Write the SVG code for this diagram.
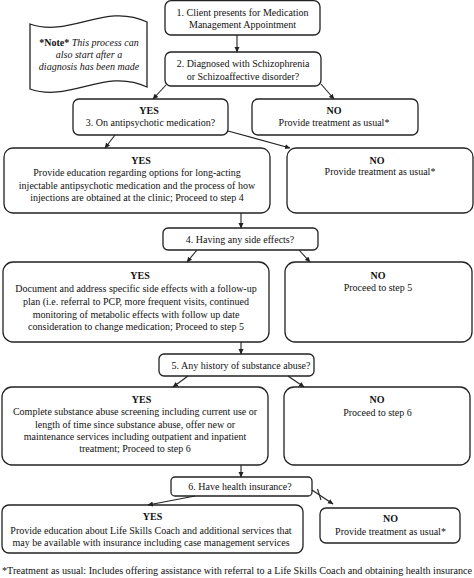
<svg xmlns="http://www.w3.org/2000/svg" width="474" height="578" viewBox="0 0 474 578">
<defs>
<marker id="ah" markerWidth="6" markerHeight="6" refX="5" refY="3" orient="auto" markerUnits="userSpaceOnUse">
<path d="M0,0.5 L5.5,3 L0,5.5 Z" fill="#222"/>
</marker>
<style>
.box{fill:#fff;stroke:#222;stroke-width:1.3}
text{font-family:"Liberation Serif","Times New Roman",serif;font-size:10px;fill:#111;text-anchor:middle}
.b{font-weight:bold}
.i{font-style:italic}
.c line{stroke:#222;stroke-width:1.1;marker-end:url(#ah)}
</style>
</defs>
<rect width="474" height="578" fill="#fff"/>

<g id="note">
<path class="box" d="M30,24 C70,38 105,2 147,22 L147,87 C105,67 70,103 30,89 Z"/>
<text x="89" y="46"><tspan class="b">*Note*</tspan> <tspan class="i">This process can</tspan></text>
<text x="89" y="58" class="i">also start after a</text>
<text x="89" y="70" class="i">diagnosis has been made</text>
</g>

<g id="step1">
<rect class="box" x="165" y="0.7" width="155" height="34.3" rx="6"/>
<text x="242.5" y="15.5">1. Client presents for Medication</text>
<text x="242.5" y="27.5">Management Appointment</text>
</g>

<g id="step2">
<rect class="box" x="165" y="52" width="156" height="34" rx="6"/>
<text x="243" y="67">2. Diagnosed with Schizophrenia</text>
<text x="243" y="79.5">or Schizoaffective disorder?</text>
</g>

<g id="yes2">
<rect class="box" x="73" y="99" width="155" height="36" rx="6"/>
<text x="149" y="114" class="b">YES</text>
<text x="150.5" y="125.5">3. On antipsychotic medication?</text>
</g>

<g id="no2">
<rect class="box" x="252" y="99" width="166" height="36" rx="6"/>
<text x="334" y="114" class="b">NO</text>
<text x="334" y="125.5">Provide treatment as usual*</text>
</g>

<g id="yes3">
<rect class="box" x="4" y="148" width="266" height="65" rx="9"/>
<text x="141" y="163.5" class="b">YES</text>
<text x="137" y="176">Provide education regarding options for long-acting</text>
<text x="137" y="188.5">injectable antipsychotic medication and the process of how</text>
<text x="137" y="201">injections are obtained at the clinic; Proceed to step 4</text>
</g>

<g id="no3">
<rect class="box" x="287" y="148" width="186" height="65" rx="9"/>
<text x="377" y="164" class="b">NO</text>
<text x="380" y="175">Provide treatment as usual*</text>
</g>

<g id="step4">
<rect class="box" x="163" y="228" width="155" height="22" rx="5"/>
<text x="240" y="242.5">4. Having any side effects?</text>
</g>

<g id="yes4">
<rect class="box" x="3" y="262" width="266" height="80" rx="10"/>
<text x="140" y="278.5" class="b">YES</text>
<text x="136" y="291.5">Document and address specific side effects with a follow-up</text>
<text x="136" y="304.5">plan (i.e. referral to PCP, more frequent visits, continued</text>
<text x="136" y="317.5">monitoring of metabolic effects with follow up date</text>
<text x="136" y="330">consideration to change medication; Proceed to step 5</text>
</g>

<g id="no4">
<rect class="box" x="285" y="262" width="187" height="80" rx="10"/>
<text x="378" y="278.5" class="b">NO</text>
<text x="378" y="291">Proceed to step 5</text>
</g>

<g id="step5">
<rect class="box" x="159" y="354" width="155" height="22" rx="5"/>
<text x="241" y="369">5. Any history of substance abuse?</text>
</g>

<g id="yes5">
<rect class="box" x="2" y="387" width="266" height="78" rx="10"/>
<text x="141.5" y="402.5" class="b">YES</text>
<text x="135" y="415">Complete substance abuse screening including current use or</text>
<text x="135" y="427.5">length of time since substance abuse, offer new or</text>
<text x="135" y="439.5">maintenance services including outpatient and inpatient</text>
<text x="135" y="451.5">treatment; Proceed to step 6</text>
</g>

<g id="no5">
<rect class="box" x="284" y="387" width="186" height="78" rx="10"/>
<text x="377" y="402.5" class="b">NO</text>
<text x="377.5" y="416">Proceed to step 6</text>
</g>

<g id="step6">
<rect class="box" x="171" y="477" width="141" height="19" rx="4"/>
<text x="240" y="490">6. Have health insurance?</text>
</g>

<g id="yes6">
<rect class="box" x="2" y="505" width="301" height="48" rx="7"/>
<text x="152.5" y="520" class="b">YES</text>
<text x="151" y="533.5">Provide education about Life Skills Coach and additional services that</text>
<text x="151" y="545.5">may be available with insurance including case management services</text>
</g>

<g id="no6">
<rect class="box" x="320" y="508" width="140" height="35" rx="6"/>
<text x="390.5" y="521.5" class="b">NO</text>
<text x="390.5" y="534.5">Provide treatment as usual*</text>
</g>

<g id="footnote">
<text x="237" y="573.5" textLength="470" lengthAdjust="spacingAndGlyphs">*Treatment as usual: Includes offering assistance with referral to a Life Skills Coach and obtaining health insurance</text>
</g>

<g id="connectors" class="c">
<line x1="237" y1="35" x2="237" y2="52"/>
<line x1="166" y1="85" x2="153" y2="99"/>
<line x1="321" y1="84" x2="334" y2="99"/>
<line x1="115" y1="135" x2="105" y2="148"/>
<line x1="228" y1="131" x2="290" y2="148"/>
<line x1="241" y1="213" x2="241" y2="228"/>
<line x1="197" y1="250" x2="187" y2="262"/>
<line x1="299" y1="250" x2="310" y2="262"/>
<line x1="241" y1="342" x2="241" y2="354"/>
<line x1="188" y1="376" x2="173" y2="387"/>
<line x1="288" y1="376" x2="304" y2="387"/>
<line x1="241" y1="465" x2="241" y2="477"/>
<line x1="195" y1="496" x2="148" y2="505"/>
<line x1="312" y1="490" x2="333" y2="504"/>
<path d="M317.5,489 L321,500" stroke="#222" stroke-width="1.1" fill="none"/>
</g>
</svg>
